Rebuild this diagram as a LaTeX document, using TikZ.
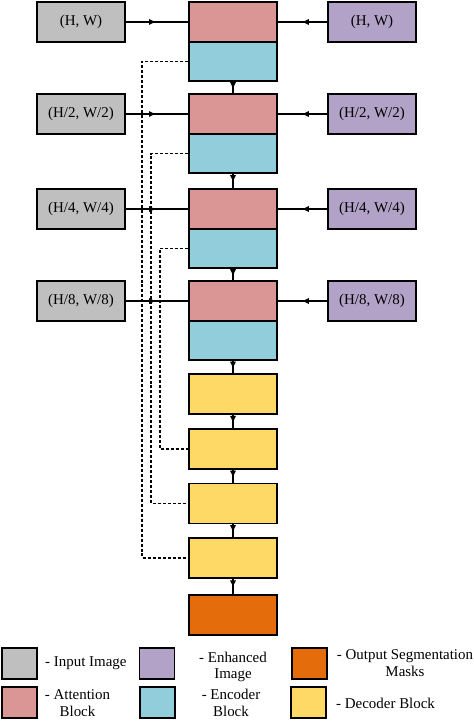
\documentclass[tikz,border=0pt]{standalone}
\usepackage{fontspec}
\setmainfont{Liberation Serif}
\usepackage{tikz}
\definecolor{Inp}{RGB}{191,191,191}
\definecolor{Enh}{RGB}{179,162,199}
\definecolor{Att}{RGB}{217,150,148}
\definecolor{Enc}{RGB}{146,205,220}
\definecolor{Dec}{RGB}{255,217,102}
\definecolor{Outp}{RGB}{228,108,10}
\usetikzlibrary{decorations.markings}

\begin{document}
\begin{tikzpicture}[x=1bp, y=-1bp,
    font=\fontsize{15}{16.5}\selectfont,
    blk/.style={draw=black, line width=1.6pt, minimum width=88bp, minimum height=40bp, inner sep=0pt},
    key/.style={draw=black, line width=1.6pt, minimum width=35bp, minimum height=31bp, inner sep=0pt},
    flow/.style={line width=1.5pt, postaction={decorate, decoration={markings,
                    mark=at position #1 with {\fill (3pt,0pt) -- (-3pt,3pt) -- (-3pt,-3pt) -- cycle;}}}},
    flow/.default=0.45,
    skip/.style={line width=1.6pt, dash pattern=on 3pt off 2pt}]
    \useasboundingbox (0,0) rectangle (474,721);

    % input images
    \node [blk, fill=Inp] (in1) at (81,22)  {(H, W)};
    \node [blk, fill=Inp] (in2) at (81,114) {(H/2, W/2)};
    \node [blk, fill=Inp] (in3) at (81,209) {(H/4, W/4)};
    \node [blk, fill=Inp] (in4) at (81,301) {(H/8, W/8)};
    % enhanced images
    \node [blk, fill=Enh] (en1) at (372,22)  {(H, W)};
    \node [blk, fill=Enh] (en2) at (372,114) {(H/2, W/2)};
    \node [blk, fill=Enh] (en3) at (372,209) {(H/4, W/4)};
    \node [blk, fill=Enh] (en4) at (372,301) {(H/8, W/8)};

    % attention + encoder
    \node [blk, fill=Att] (att1) at (233,22)  {};
    \node [blk, fill=Enc, minimum height=39bp] (enc1) at (233,61.5) {};
    \node [blk, fill=Att] (att2) at (233,114) {};
    \node [blk, fill=Enc, minimum height=39bp] (enc2) at (233,153.5) {};
    \node [blk, fill=Att] (att3) at (233,209) {};
    \node [blk, fill=Enc, minimum height=39bp] (enc3) at (233,248.5) {};
    \node [blk, fill=Att] (att4) at (233,301) {};
    \node [blk, fill=Enc, minimum height=39bp] (enc4) at (233,340.5) {};

    % decoder + output
    \node [blk, fill=Dec] (dec1) at (233,394) {};
    \node [blk, fill=Dec] (dec2) at (233,449) {};
    \node [blk, fill=Dec] (dec3) at (233,503.5) {};
    \node [blk, fill=Dec] (dec4) at (233,558) {};
    \node [blk, fill=Outp] (seg) at (233,615) {};

    % connections
    \draw [flow=0.42] (in1.east) -- (att1.west);
    \draw [flow=0.42] (in2.east) -- (att2.west);
    \draw [flow=0.42] (in3.east) -- (att3.west);
    \draw [flow=0.42] (in4.east) -- (att4.west);
    \draw [flow=0.43] (en1.west) -- (att1.east);
    \draw [flow=0.43] (en2.west) -- (att2.east);
    \draw [flow=0.43] (en3.west) -- (att3.east);
    \draw [flow=0.43] (en4.west) -- (att4.east);
    \draw [flow=0.3] (enc1.south) -- (att2.north);
    \draw [flow=0.3] (enc2.south) -- (att3.north);
    \draw [flow=0.3] (enc3.south) -- (att4.north);
    \draw [flow=0.3] (enc4.south) -- (dec1.north);
    \draw [flow=0.3] (dec1.south) -- (dec2.north);
    \draw [flow=0.3] (dec2.south) -- (dec3.north);
    \draw [flow=0.3] (dec3.south) -- (dec4.north);
    \draw [flow=0.3] (dec4.south) -- (seg.north);

    % skip connections
    \draw [skip] (enc1.west) -- ++(-46,0) |- (dec4.west);
    \draw [skip] (enc2.west) -- ++(-37,0) |- (dec3.west);
    \draw [skip] (enc3.west) -- ++(-28,0) |- (dec2.west);

    % legend
    \node [key, fill=Inp]  (kInp) at (19.5,663.5) {};
    \node [key, fill=Att]  (kAtt) at (19.5,702.5) {};
    \node [key, fill=Enh]  (kEnh) at (157,663.5) {};
    \node [key, fill=Enc]  (kEnc) at (157.5,702.5) {};
    \node [key, fill=Outp] (kOut) at (309.5,663.5) {};
    \node [key, fill=Dec]  (kDec) at (308.5,702.5) {};
    \node [anchor=west, inner sep=0pt] (tInp) at (45,663) {- Input Image};
    \node [align=center, inner sep=0pt] (tAtt) at (77.5,703) {- Attention\\Block};
    \node [align=center, inner sep=0pt] (tEnh) at (233,667) {- Enhanced\\Image};
    \node [align=center, inner sep=0pt] (tEnc) at (231,703) {- Encoder\\Block};
    \node [align=center, inner sep=0pt] (tOut) at (405,663) {- Output Segmentation\\Masks};
    \node [anchor=west, inner sep=0pt] (tDec) at (336,703) {- Decoder Block};
\end{tikzpicture}
\end{document}
